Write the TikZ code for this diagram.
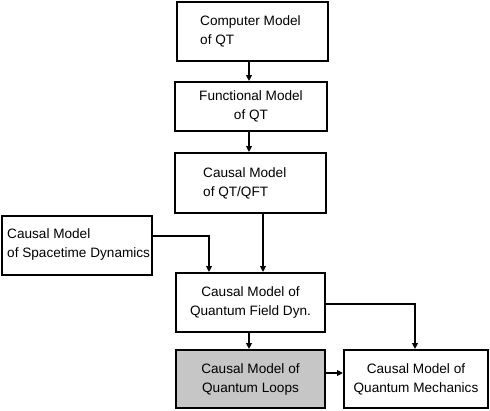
\documentclass[tikz,border=0pt]{standalone}
\usepackage{fontspec}
\setmainfont{Liberation Sans}
\usetikzlibrary{arrows.meta}
\definecolor{loopgray}{HTML}{C6C6C6}
\begin{document}
\begin{tikzpicture}[x=1pt,y=-1pt,
  box/.style={draw, line width=1.8pt, inner sep=0pt, align=center, font=\fontsize{13.6}{19}\selectfont},
  txt/.style={inner sep=0pt, align=left, anchor=west, font=\fontsize{13.6}{19}\selectfont},
  arr/.style={line width=1.9pt, -{Triangle[length=6pt,width=5.5pt]}}]
\useasboundingbox[fill=white] (0,0) rectangle (490,410);
% boxes
\node[box, minimum width=151pt, minimum height=59pt] (b1) at (252.5,31.5) {};
\node[txt] (t1) at (200,31.5) {Computer Model\\of QT};
\node[box, minimum width=152pt, minimum height=49pt] (b2) at (251,106.5) {Functional Model\\of QT};
\node[box, minimum width=151pt, minimum height=60pt] (b3) at (250.5,183) {};
\node[txt] (t3) at (203,183) {Causal Model\\of QT/QFT};
\node[box, minimum width=150pt, minimum height=59pt] (b4) at (77,245.5) {};
\node[txt] (t4) at (7,244.5) {Causal Model\\of Spacetime Dynamics};
\node[box, minimum width=149pt, minimum height=59pt] (b5) at (250.5,302.5) {Causal Model of\\Quantum Field Dyn.};
\node[box, fill=loopgray, minimum width=149pt, minimum height=58pt] (b6) at (250.5,379) {Causal Model of\\Quantum Loops};
\node[box, minimum width=144pt, minimum height=58pt] (b7) at (416,379) {Causal Model of\\Quantum Mechanics};
% connector guides
\coordinate (c1) at (249,0);
\coordinate (c2) at (263,0);
\coordinate (c3) at (209,236);
\coordinate (c4) at (415,304);
\coordinate (c5) at (0,373);
% connectors
\draw[arr] (b1.south -| c1) -- (b2.north -| c1);
\draw[arr] (b2.south -| c1) -- (b3.north -| c1);
\draw[arr] (b3.south -| c2) -- (b5.north -| c2);
\draw[arr] (b4.east |- c3) -| (b5.north -| c3);
\draw[arr] (b5.south -| c1) -- (b6.north -| c1);
\draw[arr] (b5.east |- c4) -| (b7.north -| c4);
\draw[arr] (b6.east |- c5) -- (b7.west |- c5);
\end{tikzpicture}
\end{document}
